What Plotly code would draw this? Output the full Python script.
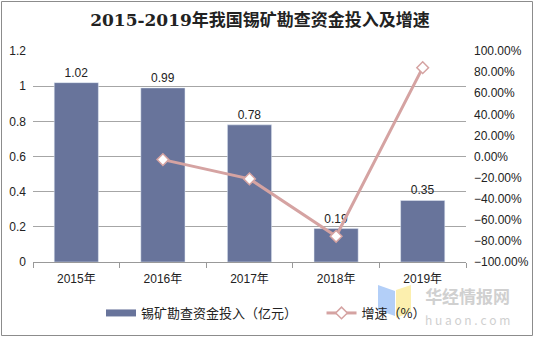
import plotly.graph_objects as go

years = ["2015年", "2016年", "2017年", "2018年", "2019年"]
invest = [1.02, 0.99, 0.78, 0.19, 0.35]
growth = [None, -0.0294, -0.2121, -0.7564, 0.8421]
left_ticks = [0, 0.2, 0.4, 0.6, 0.8, 1, 1.2]
left_labels = ["0", "0.2", "0.4", "0.6", "0.8", "1", "1.2"]

W, H = 534, 337
L, R, T, B = 33, 68, 51, 75
pw, ph = W - L - R, H - T - B
BAR_COLOR = "#68749b"
LINE_COLOR = "#d5a3a2"

def px(x):
    return (x - L) / pw

def py(y):
    return (H - B - y) / ph

fig = go.Figure()
fig.add_trace(go.Bar(
    x=years, y=invest, name="锡矿勘查资金投入（亿元）",
    marker=dict(color=BAR_COLOR), showlegend=False,
    text=[f"{v:.2f}" for v in invest], textposition="outside",
    textfont=dict(size=12, color="#222", family="Liberation Sans"),
    cliponaxis=False,
))
# legend entry for bars (thin horizontal swatch as in the reference)
fig.add_trace(go.Scatter(
    x=[None], y=[None], name="锡矿勘查资金投入（亿元）\u3000\u3000", mode="lines",
    line=dict(color=BAR_COLOR, width=7),
))
fig.add_trace(go.Scatter(
    x=years, y=growth, name="增速（%）", yaxis="y2", mode="lines+markers",
    line=dict(color=LINE_COLOR, width=3),
    marker=dict(symbol="diamond", size=9, color="white",
                line=dict(color=LINE_COLOR, width=1.5)),
    connectgaps=False,
))

fig.update_layout(
    width=W, height=H, margin=dict(l=L, r=R, t=T, b=B, autoexpand=False),
    paper_bgcolor="white", plot_bgcolor="white",
    bargap=0.49,
    title=dict(text="<b>2015-2019年我国锡矿勘查资金投入及增速</b>",
               x=px(260), xref="paper", xanchor="center", y=1 - 20 / H, yanchor="middle",
               font=dict(family="DejaVu Serif, Noto Sans CJK SC", size=17, color="#222")),
    font=dict(family="Liberation Sans, Noto Sans CJK SC", size=12, color="#222"),
    xaxis=dict(showline=True, linecolor="#999", linewidth=1, ticks="outside",
               tickson="boundaries", ticklen=5, tickcolor="#999",
               ticklabelstandoff=6, automargin=False,
               tickfont=dict(size=12, family="Liberation Sans, Noto Sans CJK SC")),
    yaxis=dict(range=[0, 1.2], tickvals=left_ticks, ticktext=left_labels,
               showgrid=True, gridcolor="#a6a6a6", gridwidth=1, zeroline=False,
               showline=False, ticks="", ticklabelstandoff=6, automargin=False,
               tickfont=dict(size=12)),
    yaxis2=dict(range=[-1, 1], dtick=0.2, tick0=-1, tickformat=".2%",
                overlaying="y", side="right", showgrid=False, zeroline=False,
                showline=False, ticklabelstandoff=7, automargin=False,
                tickfont=dict(size=12)),
    legend=dict(orientation="h", x=px(101), xanchor="left", y=py(313), yanchor="middle",
                font=dict(size=13, family="Noto Sans CJK SC", color="#222"),
                tracegroupgap=0, bgcolor="rgba(0,0,0,0)"),
    showlegend=True,
)

# outer border
fig.add_shape(type="rect", xref="paper", yref="paper",
              x0=px(1.5), x1=px(532.5), y0=py(335.5), y1=py(1.5),
              line=dict(color="#8c8c8c", width=1), fillcolor="rgba(0,0,0,0)", layer="above")

# watermark logo
fig.add_shape(type="path", xref="paper", yref="paper",
              path=f"M {px(378)} {py(285)} L {px(395)} {py(291)} L {px(395)} {py(316)} L {px(378)} {py(310)} Z",
              line=dict(width=0), fillcolor="#b3cff8", layer="below")
fig.add_shape(type="path", xref="paper", yref="paper",
              path=f"M {px(396)} {py(290)} L {px(411)} {py(285)} L {px(411)} {py(312)} L {px(396)} {py(318)} Z",
              line=dict(width=0), fillcolor="#fcefae", layer="below")
fig.add_annotation(
    text="<b>华经情报网</b><br><span style='font-size:12px'>h u a o n . c o m</span>",
    xref="paper", yref="paper", x=px(467), y=py(305),
    xanchor="center", yanchor="middle", align="center",
    showarrow=False, font=dict(size=17, color="#d0d0d0", family="Noto Sans CJK SC"))

fig.write_html("out.html")
